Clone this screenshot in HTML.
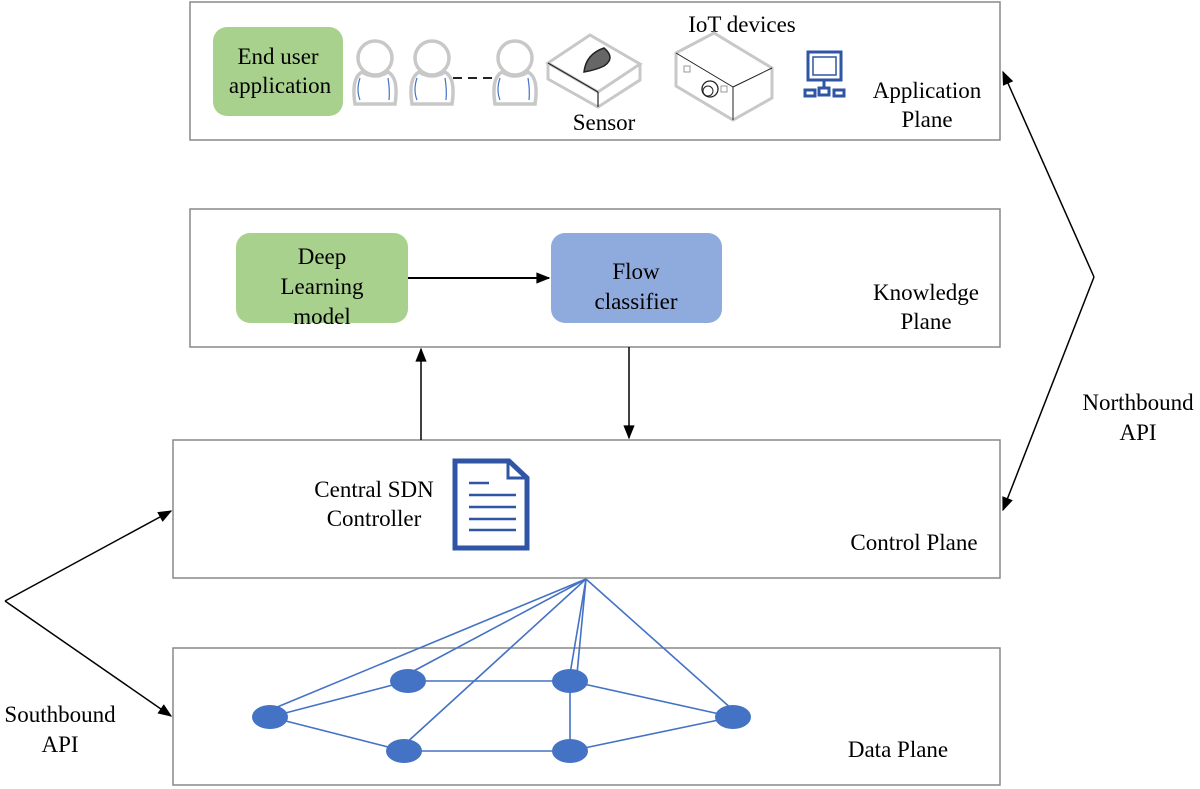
<!DOCTYPE html>
<html><head><meta charset="utf-8"><style>
html,body{margin:0;padding:0;background:#fff;}
svg{display:block;font-family:"Liberation Serif",serif;}
</style></head><body>
<svg width="1200" height="789" viewBox="0 0 1200 789" xmlns="http://www.w3.org/2000/svg">
<defs>
<marker id="ah2" viewBox="0 0 10 10" refX="9" refY="5" markerWidth="18" markerHeight="14" markerUnits="userSpaceOnUse" orient="auto"><path d="M0,1 L10,5 L0,9 Z" fill="#000"/></marker>
</defs>
<g fill="#fff" stroke="#888" stroke-width="1.5">
<rect x="190" y="2" width="810" height="138"/>
<rect x="190" y="209" width="810" height="138"/>
<rect x="173" y="440" width="827" height="138"/>
<rect x="173" y="648" width="827" height="137"/>
</g>
<!-- App plane -->
<rect x="213" y="27" width="130" height="89" rx="14" fill="#a9d18e"/>
<text x="278" y="64" font-size="23" text-anchor="middle">End user</text>
<text x="280" y="93" font-size="23" text-anchor="middle">application</text>
<g fill="#fff" stroke="#c8c8c8" stroke-width="3.5">
<g><circle cx="375" cy="58" r="17"/><path d="M355,104 Q351,78 362,72 Q375,80 388,72 Q399,78 395,104 Z"/></g>
<g transform="translate(57,0)"><circle cx="375" cy="58" r="17"/><path d="M355,104 Q351,78 362,72 Q375,80 388,72 Q399,78 395,104 Z"/></g>
<g transform="translate(140,0)"><circle cx="375" cy="58" r="17"/><path d="M355,104 Q351,78 362,72 Q375,80 388,72 Q399,78 395,104 Z"/></g>
</g>
<g stroke="#4472c4" stroke-width="1.2" fill="none">
<path d="M360,78 Q356,90 360,100"/><path d="M388,78 Q390,90 389,100"/>
<path d="M417,78 Q413,90 417,100"/><path d="M445,78 Q447,90 446,100"/>
<path d="M500,78 Q496,90 500,100"/><path d="M528,78 Q530,90 529,100"/>
</g>
<line x1="453" y1="78" x2="497" y2="78" stroke="#222" stroke-width="2" stroke-dasharray="9,6"/>
<!-- sensor -->
<path d="M548,63 L590,35 L640,64 L598,92 Z M548,63 L548,79 L598,107 L640,80 L640,64" fill="#fff" stroke="#c8c8c8" stroke-width="3"/>
<line x1="548" y1="63" x2="598" y2="92" stroke="#222" stroke-width="1.2"/><line x1="598" y1="92" x2="598" y2="107" stroke="#222" stroke-width="1.2"/>
<path d="M584,72 Q586,54 604,48 Q616,58 604,66 Q596,70 584,72 Z" fill="#666" stroke="#222" stroke-width="1.5"/>
<text x="604" y="130" font-size="23" text-anchor="middle">Sensor</text>
<text x="742" y="32" font-size="23" text-anchor="middle">IoT devices</text>
<!-- iot device -->
<path d="M676,53 L714,33 L772,68 L772,98 L733,120 L676,86 Z" fill="#fff" stroke="#c8c8c8" stroke-width="3"/>
<path d="M676,53 L733,87 L733,120 M733,87 L772,68" fill="none" stroke="#222" stroke-width="1"/>
<circle cx="710" cy="89" r="8" fill="#fff" stroke="#222" stroke-width="1.3"/><circle cx="708" cy="91" r="5" fill="none" stroke="#222" stroke-width="1"/>
<rect x="684" y="66" width="6" height="6" fill="none" stroke="#999"/><rect x="721" y="86" width="6" height="6" fill="none" stroke="#999"/>
<!-- monitor -->
<g fill="none" stroke="#2f55a4" stroke-width="3">
<rect x="808" y="52" width="33" height="28"/><rect x="813" y="57" width="23" height="18" stroke-width="1.5"/>
<line x1="824" y1="80" x2="824" y2="88"/><rect x="819" y="88" width="10" height="7"/><rect x="805" y="90" width="10" height="6"/><rect x="834" y="90" width="10" height="6"/>
</g>
<text x="927" y="98" font-size="23" text-anchor="middle">Application</text>
<text x="927" y="127" font-size="23" text-anchor="middle">Plane</text>
<!-- knowledge -->
<rect x="236" y="233" width="172" height="90" rx="14" fill="#a9d18e"/>
<text x="322" y="264" font-size="23" text-anchor="middle">Deep</text>
<text x="322" y="294" font-size="23" text-anchor="middle">Learning</text>
<text x="322" y="324" font-size="23" text-anchor="middle">model</text>
<rect x="551" y="233" width="171" height="90" rx="14" fill="#8faadc"/>
<text x="636" y="279" font-size="23" text-anchor="middle">Flow</text>
<text x="636" y="309" font-size="23" text-anchor="middle">classifier</text>
<line x1="408" y1="278" x2="549" y2="278" stroke="#000" stroke-width="2" marker-end="url(#ah2)"/>
<text x="926" y="300" font-size="23" text-anchor="middle">Knowledge</text>
<text x="926" y="329" font-size="23" text-anchor="middle">Plane</text>
<line x1="421" y1="440" x2="421" y2="349" stroke="#000" stroke-width="1.5" marker-end="url(#ah2)"/>
<line x1="629" y1="347" x2="629" y2="438" stroke="#000" stroke-width="1.5" marker-end="url(#ah2)"/>
<!-- control -->
<text x="374" y="497" font-size="23" text-anchor="middle">Central SDN</text>
<text x="374" y="526" font-size="23" text-anchor="middle">Controller</text>
<path d="M455,461 L509,461 L527,478 L527,548 L455,548 Z" fill="#fff" stroke="#2f55a4" stroke-width="5"/>
<path d="M508,463 L508,478 L525,478" fill="none" stroke="#2f55a4" stroke-width="3"/>
<g stroke="#2f55a4" stroke-width="2.5"><line x1="469" y1="483" x2="489" y2="483"/><line x1="469" y1="495" x2="516" y2="495"/><line x1="469" y1="507" x2="516" y2="507"/><line x1="469" y1="519" x2="516" y2="519"/><line x1="469" y1="530" x2="516" y2="530"/></g>
<text x="914" y="550" font-size="23" text-anchor="middle">Control Plane</text>
<!-- data plane -->
<g stroke="#4472c4" stroke-width="1.6">
<line x1="586" y1="579" x2="270" y2="710"/><line x1="586" y1="579" x2="408" y2="674"/><line x1="586" y1="579" x2="404" y2="745"/>
<line x1="586" y1="579" x2="570" y2="674"/><line x1="586" y1="579" x2="577" y2="674"/><line x1="586" y1="579" x2="733" y2="710"/>
<line x1="270" y1="717" x2="408" y2="681"/><line x1="270" y1="717" x2="404" y2="751"/>
<line x1="408" y1="681" x2="570" y2="681"/><line x1="404" y1="751" x2="570" y2="751"/>
<line x1="570" y1="681" x2="570" y2="751"/><line x1="570" y1="681" x2="733" y2="717"/><line x1="570" y1="751" x2="733" y2="717"/>
</g>
<g fill="#4472c4">
<ellipse cx="270" cy="717" rx="18" ry="12"/><ellipse cx="408" cy="681" rx="18" ry="12"/><ellipse cx="404" cy="751" rx="18" ry="12"/>
<ellipse cx="570" cy="681" rx="18" ry="12"/><ellipse cx="570" cy="751" rx="18" ry="12"/><ellipse cx="733" cy="717" rx="18" ry="12"/>
</g>
<text x="898" y="757" font-size="23" text-anchor="middle">Data Plane</text>
<!-- APIs -->
<line x1="5" y1="601" x2="171" y2="511" stroke="#000" stroke-width="1.5" marker-end="url(#ah2)"/>
<line x1="5" y1="601" x2="171" y2="716" stroke="#000" stroke-width="1.5" marker-end="url(#ah2)"/>
<text x="60" y="722" font-size="23" text-anchor="middle">Southbound</text>
<text x="60" y="752" font-size="23" text-anchor="middle">API</text>
<line x1="1094" y1="277" x2="1003" y2="72" stroke="#000" stroke-width="1.5" marker-end="url(#ah2)"/>
<line x1="1094" y1="277" x2="1003" y2="510" stroke="#000" stroke-width="1.5" marker-end="url(#ah2)"/>
<text x="1138" y="410" font-size="23" text-anchor="middle">Northbound</text>
<text x="1138" y="440" font-size="23" text-anchor="middle">API</text>
</svg>
</body></html>
